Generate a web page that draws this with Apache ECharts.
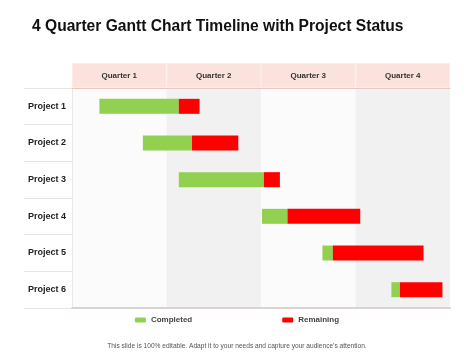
<!DOCTYPE html>
<html><head><meta charset="utf-8">
<script src="https://cdn.jsdelivr.net/npm/echarts@6/dist/echarts.min.js"></script>
<style>html,body{margin:0;padding:0;background:#fff}#c{width:474px;height:355px}</style>
</head><body><div id="c"></div>
<script>
var quarters = ['Quarter 1','Quarter 2','Quarter 3','Quarter 4'];
var projects = ['Project 1','Project 2','Project 3','Project 4','Project 5','Project 6'];
// values in quarters (0 = start of Q1, 4 = end of Q4)
var startVals = [0.29, 0.75, 1.13, 2.01, 2.65, 3.38];
var completedVals = [0.84, 0.52, 0.90, 0.27, 0.11, 0.09];
var remainingVals = [0.22, 0.49, 0.17, 0.77, 0.96, 0.45];
var headerVals = [1, 1, 1, 1];

var chart = echarts.init(document.getElementById('c'));
var font = 'Liberation Sans, Arial, sans-serif';
chart.setOption({
  animation: false,
  backgroundColor: '#fff',
  title: [{
    text: '4 Quarter Gantt Chart Timeline with Project Status',
    left: 27, top: 14,
    textStyle: {fontFamily: font, fontSize: 15.6, fontWeight: 'bold', color: '#111'}
  }, {
    text: 'This slide is 100% editable. Adapt it to your needs and capture your audience\u2019s attention.',
    left: 'center', top: 338,
    textStyle: {fontFamily: font, fontSize: 6.6, fontWeight: 'normal', color: '#555'}
  }],
  legend: {
    data: ['Completed', 'Remaining'],
    bottom: 26, left: 'center',
    itemWidth: 11, itemHeight: 5, itemGap: 90,
    textStyle: {fontFamily: font, fontSize: 8, fontWeight: 'bold', color: '#444'}
  },
  grid: [
    {left: 72, right: 24, top: 88, bottom: 47},
    {left: 72, right: 24, top: 63, height: 25}
  ],
  xAxis: [{
    type: 'value', gridIndex: 0, min: 0, max: 4, interval: 1,
    axisLabel: {show: false}, axisTick: {show: false},
    axisLine: {show: true, lineStyle: {color: '#dcd3d1', width: 2}},
    splitLine: {show: false},
    splitArea: {show: true, areaStyle: {color: ['#fcfbfb', '#f2f1f1']}}
  }, {
    type: 'category', gridIndex: 1, data: quarters, position: 'top',
    axisLabel: {show: false}, axisTick: {show: false},
    axisLine: {show: true, lineStyle: {color: '#efc6bd', width: 1}}
  }],
  yAxis: [{
    type: 'category', gridIndex: 0, data: projects, inverse: true,
    axisLine: {show: true, lineStyle: {color: '#ebe7e6'}},
    axisTick: {show: true, length: 48, lineStyle: {color: '#e6e3e2'}},
    axisLabel: {align: 'left', margin: 44, fontFamily: font, fontSize: 9, fontWeight: 'bold', color: '#222'},
    splitLine: {show: false}
  }, {
    type: 'value', gridIndex: 1, min: 0, max: 1, show: false
  }],
  series: [{
    type: 'bar', xAxisIndex: 1, yAxisIndex: 1, data: headerVals,
    barCategoryGap: 0, silent: true,
    itemStyle: {color: '#fbe2dc', borderColor: '#f9ebe7', borderWidth: 1},
    label: {show: true, position: 'inside', formatter: '{b}', fontFamily: font, fontSize: 8, fontWeight: 'bold', color: '#333'}
  }, {
    name: 'start', type: 'bar', stack: 'g', data: startVals, barWidth: 15, silent: true,
    itemStyle: {color: 'transparent'}
  }, {
    name: 'Completed', type: 'bar', stack: 'g', data: completedVals, barWidth: 15,
    itemStyle: {color: '#92d050'}
  }, {
    name: 'Remaining', type: 'bar', stack: 'g', data: remainingVals, barWidth: 15,
    itemStyle: {color: '#ff0000'}
  }]
});
</script></body></html>
